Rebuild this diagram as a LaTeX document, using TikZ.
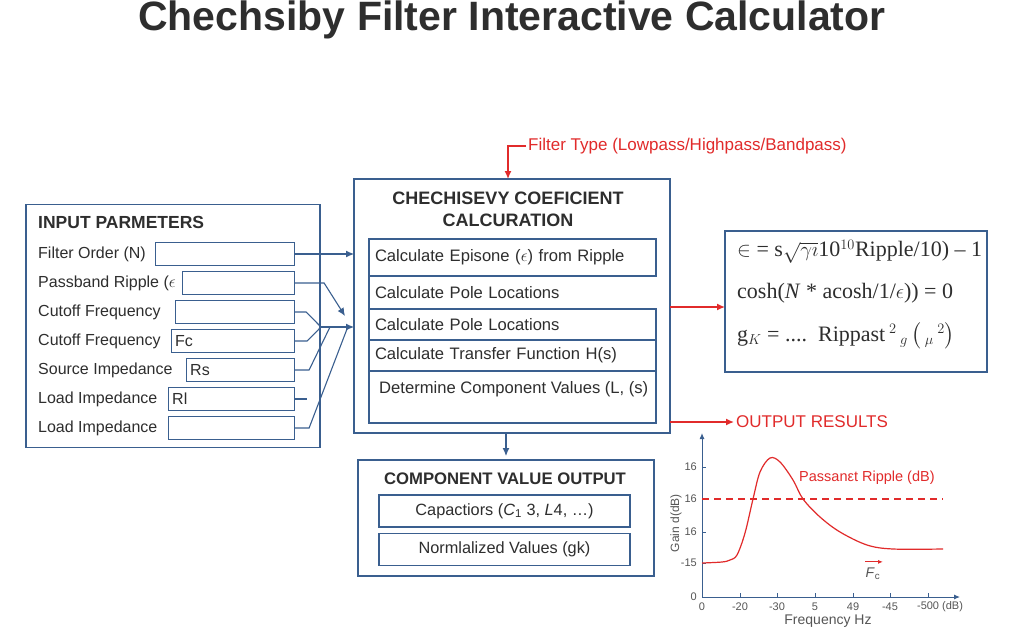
\documentclass[tikz,border=0pt]{standalone}
\usepackage{fontspec}
\setmainfont{Liberation Sans}
\newfontfamily\eqfont{Liberation Serif}
\usepackage{amsmath, amssymb}
\usepackage{xcolor}
\usetikzlibrary{arrows.meta, positioning}

\definecolor{panelblue}{HTML}{3A5F8F}
\definecolor{warnred}{HTML}{E12B2B}
\definecolor{inkgray}{HTML}{2E2E2E}
\definecolor{axisgray}{HTML}{555555}

\tikzset{
    panel/.style={rectangle, draw=panelblue, line width=1.8pt, outer sep=0pt},
    heading/.style={font=\bfseries\fontsize{17.5}{22}\selectfont, text=inkgray, align=center},
    paramtext/.style={anchor=west, inner sep=0pt, font=\fontsize{16}{19}\selectfont, text=inkgray},
    field/.style={rectangle, draw=panelblue, line width=1.1pt, anchor=west, minimum height=23pt, inner sep=0pt},
    fieldtext/.style={anchor=west, inner sep=4pt, font=\fontsize{16}{19}\selectfont, text=inkgray},
    stepbox/.style={rectangle, draw=panelblue, line width=1.3pt, minimum width=287pt, text width=275pt, align=left, inner xsep=6pt, inner ysep=0pt, outer sep=0pt, font=\fontsize{16.6}{19}\selectfont, text=inkgray},
    valuebox/.style={rectangle, draw=panelblue, line width=1.3pt, minimum width=251pt, minimum height=32pt, font=\fontsize{16.3}{19}\selectfont, text=inkgray},
    eqtext/.style={anchor=west, inner sep=0pt, font=\eqfont\fontsize{22}{26}\selectfont, text=inkgray},
    redtext/.style={anchor=west, inner sep=2pt, font=\fontsize{17}{20}\selectfont, text=warnred},
    link/.style={draw=panelblue, line width=1.1pt},
    arrow/.style={link, -{Latex[length=8pt, width=7pt]}},
    redarrow/.style={draw=warnred, line width=1.4pt, -{Latex[length=8pt, width=7pt]}},
    axis/.style={draw=panelblue, line width=1pt, -{Latex[length=6pt, width=5pt]}},
    ticktext/.style={inner sep=1pt, font=\fontsize{11}{13}\selectfont, text=axisgray}
}

\begin{document}
\begin{tikzpicture}[x=1pt, y=-1pt]
    \useasboundingbox[fill=white] (0,0) rectangle (1024,629);

    \node[font=\bfseries\fontsize{41}{48}\selectfont, text=inkgray, anchor=base] (title) at (512,30.5) {Chechsiby Filter Interactive Calculator};

    % input parameters
    \node[panel, minimum width=294pt, minimum height=243pt] (inputs) at (173,326) {};
    \node[heading, anchor=west, inner sep=0pt] (inputtitle) at (38,222) {INPUT PARMETERS};
    \foreach \i/\lbl/\fx/\val in {1/Filter Order (N)/155/, 2/Passband Ripple ($\epsilon$/182/, 3/Cutoff Frequency/175/, 4/Cutoff Frequency/171/Fc, 5/Source Impedance/186/Rs, 6/Load Impedance/168/Rl, 7/Load Impedance/168/} {
        \pgfmathsetmacro\y{254+29*(\i-1)}
        \pgfmathsetmacro\fw{294-\fx}
        \node[paramtext] (param\i) at (38,\y) {\lbl};
        \node[field, minimum width=\fw pt] (field\i) at (\fx,\y) {};
        \node[fieldtext] (value\i) at (field\i.west) {\val};
    }

    % coefficient calculation
    \node[panel, minimum width=316pt, minimum height=254pt] (calc) at (512,306) {};
    \node[heading, font=\bfseries\fontsize{18}{22}\selectfont] (calctitle) at (508,209) {CHECHISEVY COEFICIENT\\CALCURATION};
    \node[stepbox, minimum height=37pt] (step1) at (512.5,257.5) {Calculate Episone ($\epsilon$) from Ripple};
    \node[stepbox, draw=none, minimum height=33pt, below=0pt of step1] (step2) {Calculate Pole Locations};
    \node[stepbox, minimum height=31pt, below=0pt of step2] (step3) {Calculate Pole Locations};
    \node[stepbox, minimum height=31pt, below=0pt of step3] (step4) {Calculate Transfer Function H(s)};
    \node[stepbox, minimum height=52pt, below=0pt of step4] (step5) {};
    \node[paramtext, font=\fontsize{16.6}{19}\selectfont] (step5text) at ([xshift=10pt, yshift=-18pt]step5.north west) {Determine Component Values (L, (s)};
    \draw[panelblue, line width=1.3pt] (step1.south west) -- (step3.north west);

    % component output
    \node[panel, minimum width=296pt, minimum height=116pt] (comp) at (506,518) {};
    \node[heading, font=\bfseries\fontsize{16.7}{20}\selectfont] (comptitle) at (505,479) {COMPONENT VALUE OUTPUT};
    \node[valuebox] (caps) at (504.5,511) {Capactiors (\textit{C}\textsubscript{1} 3, \textit{L}4, \ldots)};
    \node[valuebox, below=5pt of caps] (gvals) {Normlalized Values (gk)};

    % formulas
    \node[panel, minimum width=262pt, minimum height=141pt] (formula) at (856,301.5) {};
    \node[eqtext] (eq1) at (737,252) {$\in$ = s$\sqrt{\gamma\imath}$10$^{10}$Ripple/10) \textendash{} 1};
    \node[eqtext] (eq2) at (737,293) {cosh(\textit{N} * acosh/1/$\epsilon$)) = 0};
    \node[eqtext] (eq3) at (737,336) {g$_K$ = ....~~Rippast\,${}^{2}\,{}_{g}\,\bigl(\,{}_{\mu}\,{}^{2}\bigr)$};

    % connectors
    \coordinate (rippleend) at (345,316);
    \coordinate (hub) at (321,327);
    \coordinate (hubmid) at (330,327);
    \coordinate (hubend) at (347,329);
    \draw[arrow] (field1.east) -- (field1.east -| calc.west);
    \draw[arrow] (field2.east) -- ++(29,0) -- (rippleend);
    \draw[link] (field3.east) -- ++(11,0) -- (hub);
    \draw[link] (field4.east) -- ++(12,0) -- (hub);
    \draw[arrow] (hub) -- (hub -| calc.west);
    \draw[link] (field5.east) -- ++(14,0) -- (hubmid);
    \draw[link] (field6.east) -- ++(12,0);
    \draw[link] (field7.east) -- ++(14,0) -- (hubend);
    \draw[arrow, shorten >=4pt] (calc.south -| comp.north) -- (comp.north);

    \node[redtext] (filtertype) at (526,146) {Filter Type (Lowpass/Highpass/Bandpass)};
    \draw[redarrow] (filtertype.west) -| ([xshift=-4pt]calc.north);
    \coordinate (eqin) at ([yshift=-5.5pt]formula.west);
    \draw[redarrow] (eqin -| calc.east) -- (eqin);
    \node[redtext] (outputs) at (734,422) {OUTPUT RESULTS};
    \draw[redarrow] (outputs.west -| calc.east) -- (outputs.west);

    % response plot
    \coordinate (origin) at (702,597);
    \draw[axis] (origin) -- (702,433);
    \draw[axis] (origin) -- (960,597);
    \foreach \y/\t in {467/16, 499/16, 532/16, 563/-15, 597/0} {
        \draw[panelblue, line width=0.8pt] (702,\y) -- (706,\y);
        \node[ticktext, anchor=east] at (698,\y) {\t};
    }
    \foreach \x/\t in {740/-20, 777/-30, 815/5, 853/49, 890/-45} {
        \draw[panelblue, line width=0.8pt] (\x,597) -- (\x,593);
        \node[ticktext] at (\x,607) {\t};
    }
    \draw[panelblue, line width=0.8pt] (928,597) -- (928,593);
    \node[ticktext] at (702,607) {0};
    \node[ticktext] at (940,607) {-500 (dB)};
    \node[ticktext, font=\fontsize{14}{16}\selectfont] (freqlabel) at (828,621) {Frequency Hz};
    \node[ticktext, font=\fontsize{12}{14}\selectfont, rotate=90] (gainlabel) at (676,523) {Gain d(dB)};
    \draw[warnred, dash pattern=on 7pt off 5pt, line width=1.1pt] (702,499) -- (943,499);
    \draw[warnred, line width=1.2pt] plot[smooth, tension=0.55] coordinates {(702,563) (722,562) (730,560) (737,555) (745,533) (753,499) (760,472) (770,458) (780,462) (793,480) (803,499) (820,517) (840,532) (867,545) (893,549) (943,549)};
    \node[redtext, font=\fontsize{14.5}{17}\selectfont] (ripplenote) at (797,478) {Passanεt Ripple (dB)};
    \node[ticktext, font=\fontsize{14}{16}\selectfont] (fcnote) at (873,574) {\textit{F}\textsubscript{c}};
    \draw[redarrow, line width=1pt, -{Latex[length=5pt, width=4pt]}] ([xshift=-8pt, yshift=5pt]fcnote.north) -- ++(18,0);
\end{tikzpicture}
\end{document}
